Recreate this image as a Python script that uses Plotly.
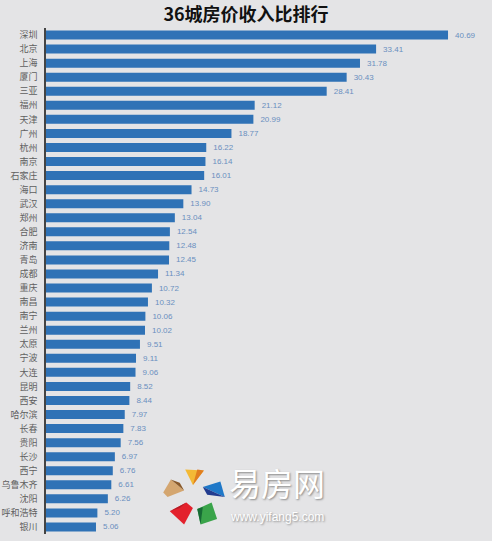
import plotly.graph_objects as go

cities = ["深圳", "北京", "上海", "厦门", "三亚", "福州", "天津", "广州", "杭州", "南京",
          "石家庄", "海口", "武汉", "郑州", "合肥", "济南", "青岛", "成都", "重庆", "南昌",
          "南宁", "兰州", "太原", "宁波", "大连", "昆明", "西安", "哈尔滨", "长春", "贵阳",
          "长沙", "西宁", "乌鲁木齐", "沈阳", "呼和浩特", "银川"]
ratios = [40.69, 33.41, 31.78, 30.43, 28.41, 21.12, 20.99, 18.77, 16.22, 16.14,
          16.01, 14.73, 13.90, 13.04, 12.54, 12.48, 12.45, 11.34, 10.72, 10.32,
          10.06, 10.02, 9.51, 9.11, 9.06, 8.52, 8.44, 7.97, 7.83, 7.56,
          6.97, 6.76, 6.61, 6.26, 5.20, 5.06]
title = "36城房价收入比排行"

W, H = 492, 541
L, R, T, B = 46, 0, 28, 7
PW, PH = W - L - R, H - T - B


def px2paper(x, y):
    return (x - L) / PW, (H - B - y) / PH


fig = go.Figure(go.Bar(
    x=ratios, y=cities, orientation="h",
    marker=dict(color="#2f72b6", line=dict(width=0)),
    text=[f"\u2002{v:.2f}" for v in ratios], textposition="outside",
    textfont=dict(size=8, color="#6a8fbf", family="Liberation Sans Narrow, Liberation Sans"),
    cliponaxis=False,
    width=0.64,
    hoverinfo="skip",
))

shapes = []
petals = [
    ("#d4a670", [(166, 493), (173, 481), (185, 491), (170, 497)]),
    ("#8a5a2b", [(173, 481), (181, 484), (185, 491)]),
    ("#f3b935", [(186, 472), (203, 473), (193, 486)]),
    ("#e07d1f", [(197, 472), (203, 473), (193, 486)]),
    ("#1f78c8", [(202, 488), (218, 483), (222, 497)]),
    ("#223c8f", [(202, 488), (222, 497), (206, 495)]),
    ("#3aa44a", [(197, 508), (210, 502), (215, 517), (200, 522)]),
    ("#176b35", [(197, 508), (202, 506), (200, 522)]),
    ("#e3212c", [(172, 510), (187, 502), (193, 507), (185, 522)]),
    ("#b31d27", [(172, 510), (187, 502), (181, 507)]),
]
cx, cy, k = 194, 497, 1.1
for color, pts in petals:
    pp = [px2paper(cx + (x - cx) * k, cy + (y - cy) * k) for x, y in pts]
    path = "M " + " L ".join(f"{a:.4f},{b:.4f}" for a, b in pp) + " Z"
    shapes.append(dict(type="path", xref="paper", yref="paper", path=path,
                       fillcolor=color, line=dict(width=0), layer="above"))

ax1, ay1 = px2paper(277, 507)
ax2, ay2 = px2paper(277, 508)

fig.update_layout(
    width=W, height=H,
    margin=dict(l=L, r=R, t=T, b=B, pad=0, autoexpand=False),
    paper_bgcolor="#e4e4e6", plot_bgcolor="rgba(0,0,0,0)",
    font=dict(family="Noto Sans CJK SC", color="#555555"),
    showlegend=False,
    bargap=0.36,
    title=dict(text=f"<b>{title}</b>", x=0.5, xref="container", xanchor="center",
               y=1 - 15 / H, yanchor="middle",
               font=dict(size=18, color="#111111", family="Noto Sans CJK SC")),
    xaxis=dict(range=[0, PW / 9.88], visible=False, fixedrange=True, automargin=False),
    yaxis=dict(autorange="reversed", showline=True, linecolor="#444444", linewidth=1.5,
               ticks="", showgrid=False, automargin=False, fixedrange=True,
               tickfont=dict(size=9, color="#5f5f5f"),
               ticklabelstandoff=5),
    shapes=shapes,
    annotations=[
        dict(text="易房网", xref="paper", yref="paper", x=ax1, y=ay1,
             showarrow=False, xanchor="center", yanchor="bottom",
             font=dict(size=32, color="#ffffff", family="Noto Sans CJK SC",
                       shadow="1px 1px 2px #8a8a8a")),
        dict(text="www.yifang5.com", xref="paper", yref="paper", x=ax2, y=ay2,
             showarrow=False, xanchor="center", yanchor="top",
             font=dict(size=12, color="#ffffff", family="Liberation Sans",
                       shadow="1px 1px 2px #8a8a8a")),
    ],
)

fig.write_html(
    "out.html",
    config={"displayModeBar": False},
    post_script="document.body.style.margin='0';document.body.style.background='#e4e4e6';",
)
